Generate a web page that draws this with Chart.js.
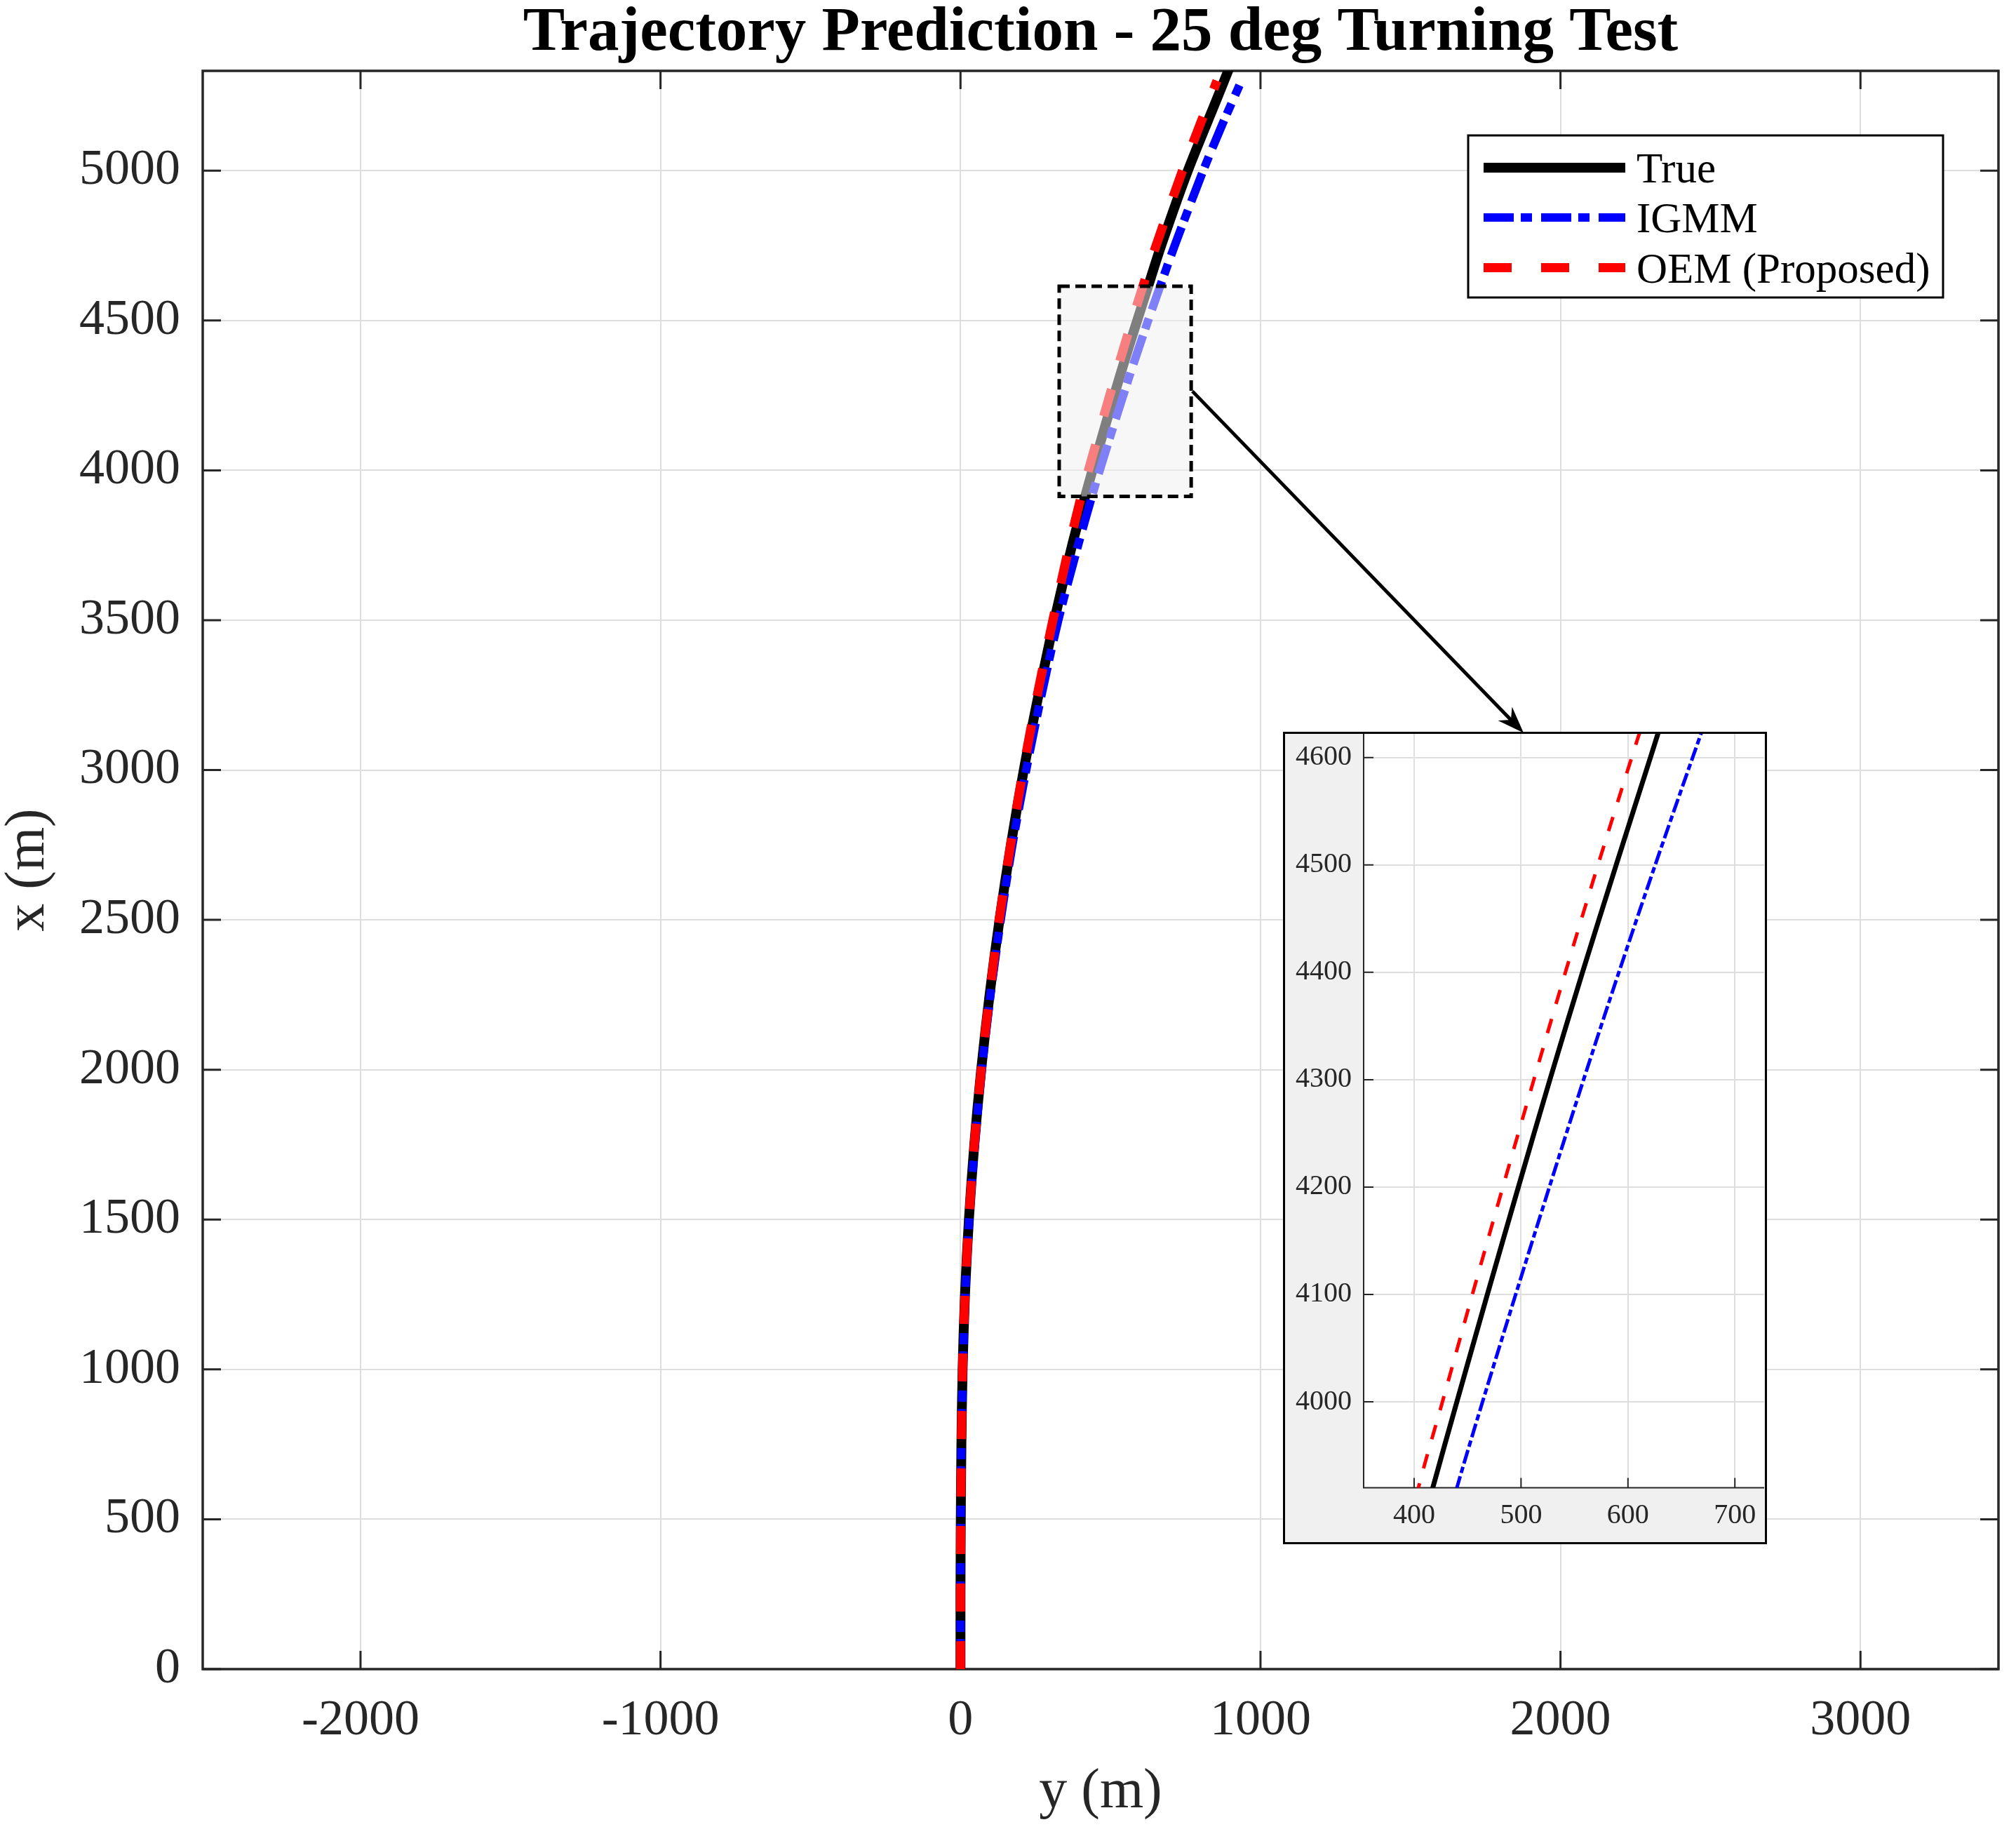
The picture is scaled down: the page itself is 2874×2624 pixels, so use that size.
<!DOCTYPE html>
<html>
<head>
<meta charset="utf-8">
<script src="https://cdn.jsdelivr.net/npm/chart.js@4.4.1/dist/chart.umd.min.js"></script>
<style>
  html, body { margin: 0; padding: 0; background: #ffffff; }
  #main { position: absolute; left: 0; top: 0; }
  #inset { position: absolute; left: 1829px; top: 1043px; }
</style>
</head>
<body>
<canvas id="main" width="2874" height="2624"></canvas>
<canvas id="inset" width="690" height="1158"></canvas>
<script>
// ---------------- DATA ----------------
// chart x axis = "y (m)" (east), chart y axis = "x (m)" (north)
const trueNorth = [0, 250, 500, 750, 1000, 1250, 1500, 1750, 2000, 2250, 2500, 2750, 3000, 3250, 3500, 3750, 3920, 4000, 4100, 4200, 4300, 4400, 4500, 4600, 4750, 5000, 5250, 5400];
const trueEast  = [0, 0, 1, 3, 7, 15, 28, 46, 69, 97, 130, 168, 211, 260, 313, 372, 417.5, 440, 468.5, 497.5, 527, 557.5, 589, 621, 669, 758, 859, 919];

const igmmNorth = [0, 250, 500, 750, 1000, 1250, 1500, 1750, 2000, 2250, 2500, 2750, 3000, 3250, 3500, 3750, 3920, 4000, 4100, 4200, 4300, 4400, 4500, 4600, 4750, 5000, 5150, 5285];
const igmmEast  = [0, 0, 1, 3, 8, 16, 29, 48, 71, 100, 134, 173, 219, 270, 326, 392, 440, 464, 495, 526.5, 558.5, 591.5, 625.5, 660.5, 714, 809, 871, 930];

const oemNorth  = [0, 250, 500, 750, 1000, 1250, 1500, 1750, 2000, 2250, 2500, 2750, 3000, 3250, 3500, 3750, 3920, 4000, 4100, 4200, 4300, 4400, 4500, 4600, 4750, 5000, 5150, 5300];
const oemEast   = [0, 0, 1, 3, 7, 15, 28, 46, 69, 97, 129, 167, 209, 256, 308, 363, 404, 426.5, 454.5, 483, 512, 541.5, 572, 603.5, 652, 740, 797, 855];

const seriesLabels = ['True', 'IGMM', 'OEM (Proposed)'];

const xTicks = [-2000, -1000, 0, 1000, 2000, 3000];
const yTicks = [0, 500, 1000, 1500, 2000, 2500, 3000, 3500, 4000, 4500, 5000];
const xRange = [-2526, 3460];
const yRange = [0, 5333];

const insetXTicks = [400, 500, 600, 700];
const insetYTicks = [4000, 4100, 4200, 4300, 4400, 4500, 4600];
const insetXRange = [352.8, 727.4];
const insetYRange = [3920, 4623];

const zoomBoxEast  = [329, 769];
const zoomBoxNorth = [3913, 4614];
const arrowFrom = [773, 4264];
const arrowTo   = [1877, 3124];

const titleText = 'Trajectory Prediction - 25 deg Turning Test';
const xAxisTitle = 'y (m)';
const yAxisTitle = 'x (m)';

// ---------------- helpers ----------------
const SERIF = '"Liberation Serif", "Times New Roman", Times, serif';
Chart.defaults.font.family = SERIF;
const AXIS_COLOR = '#262626';
const GRID_COLOR = '#dedede';

function pts(east, north) {
  return east.map((e, i) => ({ x: e, y: north[i] }));
}
function fixTicks(values) {
  return (scale) => { scale.ticks = values.map(v => ({ value: v })); };
}
function zeroPad(scale) {
  scale.paddingLeft = 0; scale.paddingRight = 0; scale.paddingTop = 0; scale.paddingBottom = 0;
}

const mainStyle = [
  { color: '#000000', width: 14, dash: [] },
  { color: '#0000ff', width: 12, dash: [43, 10, 16, 13] },
  { color: '#ff0000', width: 13, dash: [40, 42] }
];
const insetStyle = [
  { color: '#000000', width: 7, dash: [] },
  { color: '#0000ff', width: 5, dash: [20, 5, 9, 5] },
  { color: '#ff0000', width: 5, dash: [21, 22] }
];
const seriesData = [pts(trueEast, trueNorth), pts(igmmEast, igmmNorth), pts(oemEast, oemNorth)];
const drawOrder = [2, 1, 0]; // OEM on top, True at the bottom

function makeDatasets(style) {
  return seriesData.map((d, i) => ({
    label: seriesLabels[i],
    data: d,
    showLine: true,
    fill: false,
    borderColor: style[i].color,
    backgroundColor: style[i].color,
    borderWidth: style[i].width,
    borderDash: style[i].dash,
    borderCapStyle: 'butt',
    borderJoinStyle: 'round',
    pointRadius: 0,
    pointHoverRadius: 0,
    tension: 0.3,
    order: drawOrder[i]
  }));
}

// ---------------- main chart plugin ----------------
const mainDecor = {
  id: 'mainDecor',
  beforeDatasetsDraw(chart) {
    const { ctx, chartArea: a, scales: { x, y } } = chart;
    ctx.save();
    ctx.strokeStyle = AXIS_COLOR;
    ctx.lineWidth = 3;
    const tl = 26;
    ctx.beginPath();
    xTicks.forEach(v => {
      const px = x.getPixelForValue(v);
      ctx.moveTo(px, a.bottom); ctx.lineTo(px, a.bottom - tl);
      ctx.moveTo(px, a.top); ctx.lineTo(px, a.top + tl);
    });
    yTicks.forEach(v => {
      const py = y.getPixelForValue(v);
      ctx.moveTo(a.left, py); ctx.lineTo(a.left + tl, py);
      ctx.moveTo(a.right, py); ctx.lineTo(a.right - tl, py);
    });
    ctx.stroke();
    ctx.lineWidth = 3.5;
    ctx.strokeRect(a.left, a.top, a.right - a.left, a.bottom - a.top);
    ctx.restore();
  },
  afterDatasetsDraw(chart) {
    const { ctx, scales: { x, y } } = chart;
    ctx.save();
    // zoom box
    const bx0 = x.getPixelForValue(zoomBoxEast[0]), bx1 = x.getPixelForValue(zoomBoxEast[1]);
    const by0 = y.getPixelForValue(zoomBoxNorth[1]), by1 = y.getPixelForValue(zoomBoxNorth[0]);
    ctx.fillStyle = 'rgba(240,240,240,0.53)';
    ctx.fillRect(bx0, by0, bx1 - bx0, by1 - by0);
    ctx.setLineDash([15, 8]);
    ctx.lineWidth = 5;
    ctx.strokeStyle = '#000000';
    ctx.strokeRect(bx0, by0, bx1 - bx0, by1 - by0);
    ctx.setLineDash([]);
    // arrow
    const ax = x.getPixelForValue(arrowFrom[0]), ay = y.getPixelForValue(arrowFrom[1]);
    const tx = x.getPixelForValue(arrowTo[0]), ty = y.getPixelForValue(arrowTo[1]);
    const ang = Math.atan2(ty - ay, tx - ax);
    const c = Math.cos(ang), s = Math.sin(ang);
    const hl = 38, hw = 14, notch = 26;
    ctx.lineWidth = 5;
    ctx.beginPath();
    ctx.moveTo(ax, ay);
    ctx.lineTo(tx - notch * c, ty - notch * s);
    ctx.stroke();
    ctx.fillStyle = '#000000';
    ctx.beginPath();
    ctx.moveTo(tx, ty);
    ctx.lineTo(tx - hl * c + hw * s, ty - hl * s - hw * c);
    ctx.lineTo(tx - notch * c, ty - notch * s);
    ctx.lineTo(tx - hl * c - hw * s, ty - hl * s + hw * c);
    ctx.closePath();
    ctx.fill();
    // legend
    const L = 2093, T = 193, W = 677, H = 231;
    ctx.fillStyle = '#ffffff';
    ctx.fillRect(L, T, W, H);
    ctx.lineWidth = 3;
    ctx.strokeStyle = '#000000';
    ctx.strokeRect(L, T, W, H);
    const rows = [239, 310, 381.5];
    const legendOrder = [0, 1, 2];
    legendOrder.forEach((di, r) => {
      const ds = chart.data.datasets[di];
      const yy = rows[r];
      ctx.save();
      ctx.strokeStyle = ds.borderColor;
      ctx.lineWidth = ds.borderWidth;
      ctx.lineCap = 'butt';
      ctx.setLineDash(ds.borderDash || []);
      ctx.beginPath();
      ctx.moveTo(2115, yy);
      ctx.lineTo(2317, yy);
      ctx.stroke();
      ctx.restore();
      ctx.fillStyle = '#000000';
      ctx.font = '61px ' + SERIF;
      ctx.textAlign = 'left';
      ctx.textBaseline = 'alphabetic';
      ctx.fillText(ds.label, 2333, yy + 21);
    });
    ctx.restore();
  }
};

new Chart(document.getElementById('main'), {
  type: 'scatter',
  data: { datasets: makeDatasets(mainStyle) },
  options: {
    responsive: false,
    animation: false,
    devicePixelRatio: 1,
    layout: { padding: { left: 0, right: 25, top: 0, bottom: 0 } },
    plugins: {
      legend: { display: false },
      tooltip: { enabled: false },
      title: {
        display: true,
        text: titleText,
        fullSize: false,
        color: '#000000',
        font: { size: 89, weight: 'bold', lineHeight: 1, family: SERIF },
        padding: { top: 4, bottom: 8 }
      }
    },
    scales: {
      x: {
        type: 'linear',
        min: xRange[0],
        max: xRange[1],
        afterBuildTicks: fixTicks(xTicks),
        afterFit(s) { s.height = 245; zeroPad(s); },
        grid: { color: GRID_COLOR, lineWidth: 2, drawTicks: false },
        border: { display: false },
        ticks: { padding: 31, color: AXIS_COLOR, font: { size: 72 }, maxRotation: 0, autoSkip: false, callback: v => String(v) },
        title: { display: true, text: xAxisTitle, color: AXIS_COLOR, font: { size: 80, lineHeight: 1 }, padding: { top: 0, bottom: 29 } }
      },
      y: {
        type: 'linear',
        min: yRange[0],
        max: yRange[1],
        afterBuildTicks: fixTicks(yTicks),
        afterFit(s) { s.width = 289; zeroPad(s); },
        grid: { color: GRID_COLOR, lineWidth: 2, drawTicks: false },
        border: { display: false },
        ticks: { padding: 32, color: AXIS_COLOR, font: { size: 72 }, autoSkip: false, callback: v => String(v) },
        title: { display: true, text: yAxisTitle, color: AXIS_COLOR, font: { size: 80, lineHeight: 1 }, padding: { top: 1, bottom: 0 } }
      }
    }
  },
  plugins: [mainDecor]
});

// ---------------- inset chart ----------------
const insetDecor = {
  id: 'insetDecor',
  beforeDraw(chart) {
    const { ctx, chartArea: a, width, height } = chart;
    ctx.save();
    ctx.fillStyle = '#f0f0f0';
    ctx.fillRect(0, 0, width, height);
    ctx.fillStyle = '#ffffff';
    ctx.fillRect(a.left, a.top, a.right - a.left, a.bottom - a.top);
    ctx.restore();
  },
  beforeDatasetsDraw(chart) {
    const { ctx, chartArea: a, scales: { x, y } } = chart;
    ctx.save();
    ctx.strokeStyle = AXIS_COLOR;
    ctx.lineWidth = 2;
    const tl = 14;
    ctx.beginPath();
    insetXTicks.forEach(v => {
      const px = x.getPixelForValue(v);
      ctx.moveTo(px, a.bottom); ctx.lineTo(px, a.bottom - tl);
    });
    insetYTicks.forEach(v => {
      const py = y.getPixelForValue(v);
      ctx.moveTo(a.left, py); ctx.lineTo(a.left + tl, py);
    });
    ctx.moveTo(a.left, a.top); ctx.lineTo(a.left, a.bottom); ctx.lineTo(a.right, a.bottom);
    ctx.stroke();
    ctx.restore();
  },
  afterDraw(chart) {
    const { ctx, width, height } = chart;
    ctx.save();
    ctx.strokeStyle = '#000000';
    ctx.lineWidth = 3;
    ctx.strokeRect(1.5, 1.5, width - 3, height - 3);
    ctx.restore();
  }
};

new Chart(document.getElementById('inset'), {
  type: 'scatter',
  data: { datasets: makeDatasets(insetStyle) },
  options: {
    responsive: false,
    animation: false,
    devicePixelRatio: 1,
    layout: { padding: { left: 0, right: 4, top: 1.5, bottom: 0 } },
    plugins: { legend: { display: false }, tooltip: { enabled: false }, title: { display: false } },
    scales: {
      x: {
        type: 'linear',
        min: insetXRange[0],
        max: insetXRange[1],
        afterBuildTicks: fixTicks(insetXTicks),
        afterFit(s) { s.height = 80.5; zeroPad(s); },
        grid: { color: GRID_COLOR, lineWidth: 2, drawTicks: false },
        border: { display: false },
        ticks: { padding: 16, color: AXIS_COLOR, font: { size: 40 }, maxRotation: 0, autoSkip: false, callback: v => String(v) }
      },
      y: {
        type: 'linear',
        min: insetYRange[0],
        max: insetYRange[1],
        afterBuildTicks: fixTicks(insetYTicks),
        afterFit(s) { s.width = 115; zeroPad(s); },
        grid: { color: GRID_COLOR, lineWidth: 2, drawTicks: false },
        border: { display: false },
        ticks: { padding: 17, color: AXIS_COLOR, font: { size: 40 }, autoSkip: false, callback: v => String(v) }
      }
    }
  },
  plugins: [insetDecor]
});
</script>
</body>
</html>
